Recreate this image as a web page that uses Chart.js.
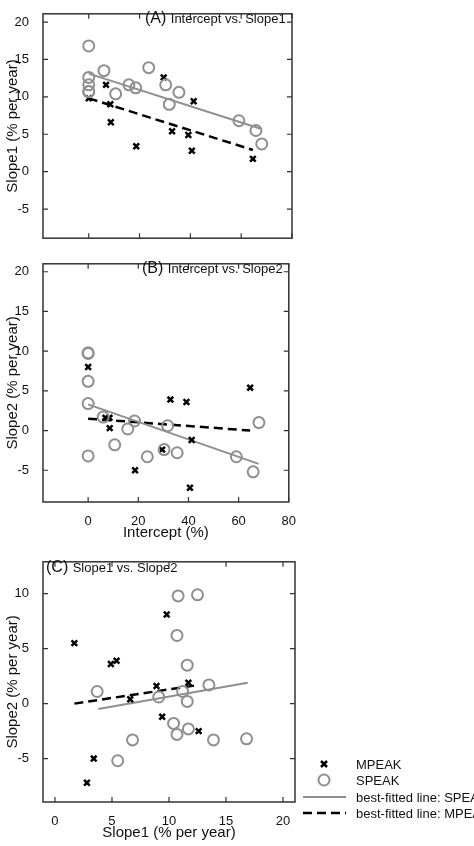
<!DOCTYPE html>
<html><head><meta charset="utf-8">
<script src="https://cdn.jsdelivr.net/npm/chart.js@4/dist/chart.umd.min.js"></script>
<style>body{margin:0;background:#fff;width:474px;height:846px;position:relative;overflow:hidden}
.p{position:absolute;left:0}</style></head><body>
<div class="p" style="top:0;width:300px;height:252px"><canvas id="a"></canvas></div>
<div class="p" style="top:250px;width:300px;height:296px"><canvas id="b"></canvas></div>
<div class="p" style="top:548px;width:474px;height:298px"><canvas id="c"></canvas></div>
<script>
// Panel A: Intercept vs Slope1
const aSpeakX=[0,0,0,0,0,6,10.6,15.8,18.5,23.6,30.3,31.7,35.5,59.1,65.8,68.1];
const aSpeakY=[16.8,12.6,11.6,10.7,10.7,13.5,10.4,11.6,11.2,13.9,11.6,9.0,10.6,6.8,5.5,3.7];
const aMpeakX=[0,6.8,8.5,8.7,18.7,29.5,32.8,39.2,40.6,41.3,64.6];
const aMpeakY=[9.8,11.6,9.0,6.6,3.4,12.6,5.4,4.9,2.8,9.4,1.7];
const aFitSpeak=[[0,13.1],[68,5.7]];
const aFitMpeak=[[0,9.8],[64.6,2.9]];
// Panel B: Intercept vs Slope2
const bSpeakX=[0,0,0,0,0,6,10.6,15.8,18.5,23.6,30.3,31.7,35.5,59.1,65.8,68.1];
const bSpeakY=[9.8,9.7,6.2,3.4,-3.2,1.7,-1.8,0.2,1.2,-3.3,-2.4,0.6,-2.8,-3.3,-5.2,1.0];
const bMpeakX=[0,6.9,8.5,8.6,18.7,29.5,32.8,39.2,40.6,41.3,64.6];
const bMpeakY=[8.0,1.6,1.6,0.3,-5.0,-2.4,3.9,3.6,-7.2,-1.2,5.4];
const bFitSpeak=[[0,3.3],[68,-4.2]];
const bFitMpeak=[[0,1.5],[64.6,0.0]];
// Panel C: Slope1 vs Slope2
const cSpeakX=[10.8,12.5,10.7,11.6,3.7,9.1,13.5,11.2,11.6,10.4,10.7,11.7,6.8,13.9,16.8,5.5];
const cSpeakY=[9.8,9.9,6.2,3.5,1.1,0.6,1.7,1.1,0.2,-1.8,-2.8,-2.3,-3.3,-3.3,-3.2,-5.2];
const cMpeakX=[1.7,4.9,5.4,6.6,8.9,9.8,9.4,11.7,12.6,3.4,2.8];
const cMpeakY=[5.5,3.6,3.9,0.4,1.6,8.1,-1.2,1.9,-2.5,-5.0,-7.2];
const cFitSpeak=[[3.8,-0.5],[16.9,1.9]];
const cFitMpeak=[[1.7,0.0],[12.6,1.7]];
const xTicksAB=[0,20,40,60,80], yTicksAB=[-5,0,5,10,15,20];
const xTicksC=[0,5,10,15,20], yTicksC=[-5,0,5,10];
const legendLabels=['MPEAK','SPEAK','best-fitted line: SPEAK','best-fitted line: MPEAK'];

const GRAY='#8f8f8f';
const pts=(xs,ys)=>xs.map((x,i)=>({x,y:ys[i]}));
const line=l=>l.map(p=>({x:p[0],y:p[1]}));
function sets(sx,sy,mx,my,fs,fm){return [
 {type:'scatter',data:pts(sx,sy),pointStyle:'circle',pointRadius:5.5,borderColor:GRAY,borderWidth:2,backgroundColor:'rgba(0,0,0,0)'},
 {type:'scatter',data:pts(mx,my),pointStyle:'crossRot',pointRadius:4,borderColor:'#000',borderWidth:2.5},
 {type:'line',data:line(fs),borderColor:GRAY,borderWidth:2,pointRadius:0},
 {type:'line',data:line(fm),borderColor:'#000',borderWidth:2.5,borderDash:[9,5],pointRadius:0}];}
const frame={id:'frame',afterDraw(ch,a,o){const c=ch.ctx,ar=ch.chartArea,x=ch.scales.x,y=ch.scales.y;
 c.save();c.strokeStyle='#333';c.lineWidth=1.5;c.strokeRect(ar.left,ar.top,ar.right-ar.left,ar.bottom-ar.top);
 c.lineWidth=1.2;
 o.xt.forEach(v=>{const p=x.getPixelForValue(v);c.beginPath();c.moveTo(p,ar.bottom);c.lineTo(p,ar.bottom-5);c.moveTo(p,ar.top);c.lineTo(p,ar.top+5);c.stroke();});
 o.yt.forEach(v=>{const p=y.getPixelForValue(v);c.beginPath();c.moveTo(ar.left,p);c.lineTo(ar.left+5,p);c.moveTo(ar.right,p);c.lineTo(ar.right-5,p);c.stroke();});
 c.fillStyle='#111';c.textBaseline='alphabetic';
 if(o.tag){c.font='16px Arial, "Liberation Sans"';c.textAlign='left';let tx=o.tx;c.fillText(o.tag,tx,o.ty);tx+=c.measureText(o.tag+' ').width;c.font='13px Arial, "Liberation Sans"';c.fillText(o.title,tx,o.ty);}
 if(o.legend){const lx=305,by=[216,232,249,265];c.font='13px Arial, "Liberation Sans"';
  legendLabels.forEach((t,i)=>c.fillText(t,356,by[i]+5));
  c.strokeStyle='#000';c.lineWidth=2.5;c.beginPath();c.moveTo(321,213);c.lineTo(327,219);c.moveTo(327,213);c.lineTo(321,219);c.stroke();
  c.strokeStyle=GRAY;c.lineWidth=2;c.beginPath();c.arc(324,232,5.5,0,7);c.stroke();
  c.beginPath();c.moveTo(303,249);c.lineTo(346,249);c.stroke();
  c.strokeStyle='#000';c.lineWidth=2.5;c.setLineDash([9,5]);c.beginPath();c.moveTo(303,265);c.lineTo(346,265);c.stroke();}
 c.restore();}};
function make(id,ds,xr,yr,xt,yt,ytitle,xtitle,showX,xh,pad,tagopt){
 new Chart(document.getElementById(id),{data:{datasets:ds},plugins:[frame],options:{
  responsive:true,maintainAspectRatio:false,animation:false,layout:{padding:pad},
  plugins:{legend:{display:false},tooltip:{enabled:false},frame:Object.assign({xt,yt},tagopt)},
  scales:{
   x:{type:'linear',min:xr[0],max:xr[1],grid:{display:false},border:{display:false},display:true,
    afterBuildTicks:s=>{s.ticks=xt.map(v=>({value:v}));},afterFit:s=>{s.height=xh;},
    ticks:{display:showX,color:'#111',font:{size:13,family:'Arial, "Liberation Sans"'},padding:4,autoSkip:false,maxRotation:0},
    title:{display:!!xtitle,text:xtitle,color:'#111',font:{size:15,family:'Arial, "Liberation Sans"'},padding:{top:4}}},
   y:{type:'linear',min:yr[0],max:yr[1],grid:{display:false},border:{display:false},
    afterBuildTicks:s=>{s.ticks=yt.map(v=>({value:v}));},afterFit:s=>{s.width=43;},
    ticks:{color:'#111',font:{size:13,family:'Arial, "Liberation Sans"'},padding:6,autoSkip:false},
    title:{display:true,text:ytitle,color:'#111',font:{size:15,family:'Arial, "Liberation Sans"'},padding:{bottom:2}}}}}});}
make('a',sets(aSpeakX,aSpeakY,aMpeakX,aMpeakY,aFitSpeak,aFitMpeak),[-18,80],[-8.9,21.1],xTicksAB,yTicksAB,'Slope1 (% per year)','',false,0,{top:1,right:8,bottom:1},{tag:'(A)',title:'Intercept vs. Slope1',tx:145,ty:23});
make('b',sets(bSpeakX,bSpeakY,bMpeakX,bMpeakY,bFitSpeak,bFitMpeak),[-18,80],[-9,21],xTicksAB,yTicksAB,'Slope2 (% per year)','Intercept (%)',true,44,{top:1,right:8,bottom:0},{tag:'(B)',title:'Intercept vs. Slope2',tx:142,ty:23});
make('c',sets(cSpeakX,cSpeakY,cMpeakX,cMpeakY,cFitSpeak,cFitMpeak),[-1.05,21.05],[-8.95,12.9],xTicksC,yTicksC,'Slope2 (% per year)','Slope1 (% per year)',true,44,{top:5,right:179,bottom:0},{tag:'(C)',title:'Slope1 vs. Slope2',tx:46,ty:24,legend:true});
</script></body></html>
